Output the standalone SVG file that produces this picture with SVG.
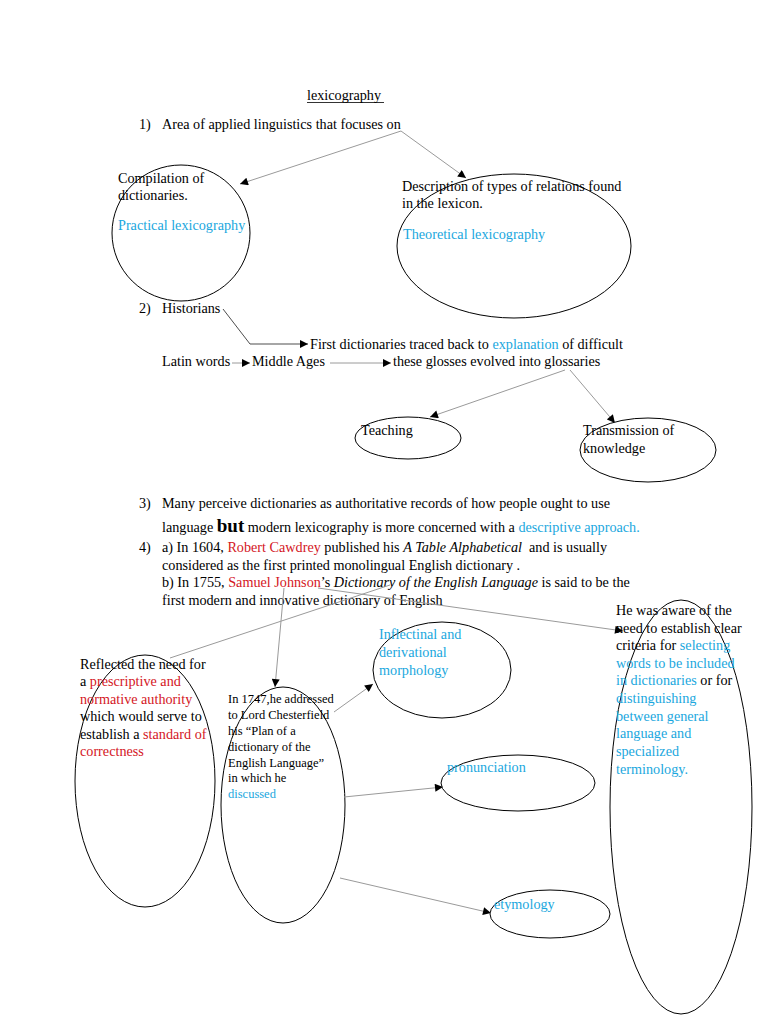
<svg xmlns="http://www.w3.org/2000/svg" width="768" height="1024" viewBox="0 0 768 1024">
<defs>
<marker id="ah" viewBox="0 0 10 10" refX="10" refY="5" markerWidth="9" markerHeight="8" markerUnits="userSpaceOnUse" orient="auto">
<path d="M0,0 L10,5 L0,10 z" fill="#000"/>
</marker>
</defs>
<style>
text{font-family:"Liberation Serif","Times New Roman",serif;font-size:14.2px;fill:#000}
.b{fill:#1aa7de}
.r{fill:#d4161e}
.i{font-style:italic}
.bold{font-family:"Liberation Serif","Times New Roman",serif;font-weight:bold;font-size:19px}
.sm{font-size:12.5px}
.el{fill:none;stroke:#000;stroke-width:1}
.cn{fill:none;stroke:#9a9a9a;stroke-width:1}
.ar{marker-end:url(#ah)}
</style>
<rect width="768" height="1024" fill="#fff"/>

<g id="title">
<text x="307" y="100">lexicography</text>
<line x1="307" y1="102.5" x2="384" y2="102.5" stroke="#000" stroke-width="0.8"/>
</g>

<g id="item1">
<text x="139" y="129">1)</text>
<text x="162" y="129">Area of applied linguistics that focuses on</text>
</g>

<g id="practical">
<ellipse class="el" cx="181" cy="233" rx="69" ry="68"/>
<text x="118" y="183">Compilation of</text>
<text x="118" y="200">dictionaries.</text>
<text x="118" y="230" class="b">Practical lexicography</text>
</g>

<g id="theoretical">
<ellipse class="el" cx="514" cy="246" rx="117" ry="72"/>
<text x="402" y="191">Description of types of relations found</text>
<text x="402" y="208">in the lexicon.</text>
<text x="403" y="239" class="b">Theoretical lexicography</text>
</g>

<g id="item2">
<text x="139" y="313">2)</text>
<text x="162" y="313">Historians</text>
<text x="310" y="349">First dictionaries traced back to <tspan class="b">explanation</tspan> of difficult</text>
<text x="162" y="366">Latin words</text>
<text x="252" y="366">Middle Ages</text>
<text x="393" y="366">these glosses evolved into glossaries</text>
</g>

<g id="teaching">
<ellipse class="el" cx="408" cy="438" rx="53" ry="21"/>
<text x="361" y="435">Teaching</text>
</g>

<g id="transmission">
<ellipse class="el" cx="648" cy="450" rx="68" ry="32"/>
<text x="583" y="435">Transmission of</text>
<text x="583" y="453">knowledge</text>
</g>

<g id="item3">
<text x="139" y="508">3)</text>
<text x="162" y="508">Many perceive dictionaries as authoritative records of how people ought to use</text>
<text x="162" y="532">language <tspan class="bold">but</tspan> modern lexicography is more concerned with a <tspan class="b">descriptive approach.</tspan></text>
</g>

<g id="item4">
<text x="139" y="552">4)</text>
<text x="162" y="552" xml:space="preserve">a) In 1604, <tspan class="r">Robert Cawdrey</tspan> published his <tspan class="i">A Table Alphabetical</tspan>  and is usually</text>
<text x="162" y="570">considered as the first printed monolingual English dictionary .</text>
<text x="162" y="587">b) In 1755, <tspan class="r">Samuel Johnson</tspan>’s <tspan class="i">Dictionary of the English Language</tspan> is said to be the</text>
<text x="162" y="605">first modern and innovative dictionary of English</text>
</g>

<g id="reflected">
<ellipse class="el" cx="145" cy="781" rx="70" ry="126"/>
<text x="80" y="669">Reflected the need for</text>
<text x="80" y="686">a <tspan class="r">prescriptive and</tspan></text>
<text x="80" y="704" class="r">normative authority</text>
<text x="80" y="721">which would serve to</text>
<text x="80" y="739">establish a <tspan class="r">standard of</tspan></text>
<text x="80" y="756" class="r">correctness</text>
</g>

<g id="plan">
<ellipse class="el" cx="283" cy="805" rx="62" ry="118"/>
<text x="228" y="703" class="sm">In 1747,he addressed</text>
<text x="228" y="719" class="sm">to Lord Chesterfield</text>
<text x="228" y="735" class="sm">his “Plan of a</text>
<text x="228" y="751" class="sm">dictionary of the</text>
<text x="228" y="767" class="sm">English Language”</text>
<text x="228" y="782" class="sm">in which he</text>
<text x="228" y="798" class="sm b">discussed</text>
</g>

<g id="morphology">
<ellipse class="el" cx="442" cy="670" rx="69" ry="48"/>
<text x="379" y="639" class="b">Inflectinal and</text>
<text x="379" y="657" class="b">derivational</text>
<text x="379" y="675" class="b">morphology</text>
</g>

<g id="pronunciation">
<ellipse class="el" cx="518" cy="783" rx="77" ry="28"/>
<text x="447" y="772" class="b">pronunciation</text>
</g>

<g id="etymology">
<ellipse class="el" cx="550" cy="914" rx="60" ry="24"/>
<text x="494" y="909" class="b">etymology</text>
</g>

<g id="criteria">
<ellipse class="el" cx="681" cy="807" rx="71" ry="207"/>
<text x="616" y="615">He was aware of the</text>
<text x="616" y="633">need to establish clear</text>
<text x="616" y="650">criteria for <tspan class="b">selecting</tspan></text>
<text x="616" y="668" class="b">words to be included</text>
<text x="616" y="685"><tspan class="b">in dictionaries</tspan> or for</text>
<text x="616" y="703" class="b">distinguishing</text>
<text x="616" y="721" class="b">between general</text>
<text x="616" y="738" class="b">language and</text>
<text x="616" y="756" class="b">specialized</text>
<text x="616" y="774" class="b">terminology.</text>
</g>

<g id="connectors">
<line class="cn ar" x1="401" y1="131" x2="240" y2="184"/>
<line class="cn ar" x1="401" y1="131" x2="466" y2="178"/>
<polyline class="cn ar" points="223,309 250,344 308,344" style="stroke:#000;stroke-width:0.7"/>
<line class="cn ar" x1="232" y1="363" x2="250" y2="363"/>
<line class="cn ar" x1="330" y1="363" x2="391" y2="363"/>
<line class="cn ar" x1="565" y1="370" x2="430" y2="417"/>
<line class="cn ar" x1="570" y1="370" x2="615" y2="423"/>
<line class="cn ar" x1="284" y1="588" x2="275" y2="687"/>
<line class="cn" x1="390" y1="585" x2="170" y2="658"/>
<line class="cn ar" x1="318" y1="588" x2="623" y2="631"/>
<line class="cn ar" x1="334" y1="712" x2="373" y2="684"/>
<line class="cn ar" x1="344" y1="797" x2="443" y2="787"/>
<line class="cn ar" x1="340" y1="878" x2="491" y2="913"/>
</g>
</svg>
